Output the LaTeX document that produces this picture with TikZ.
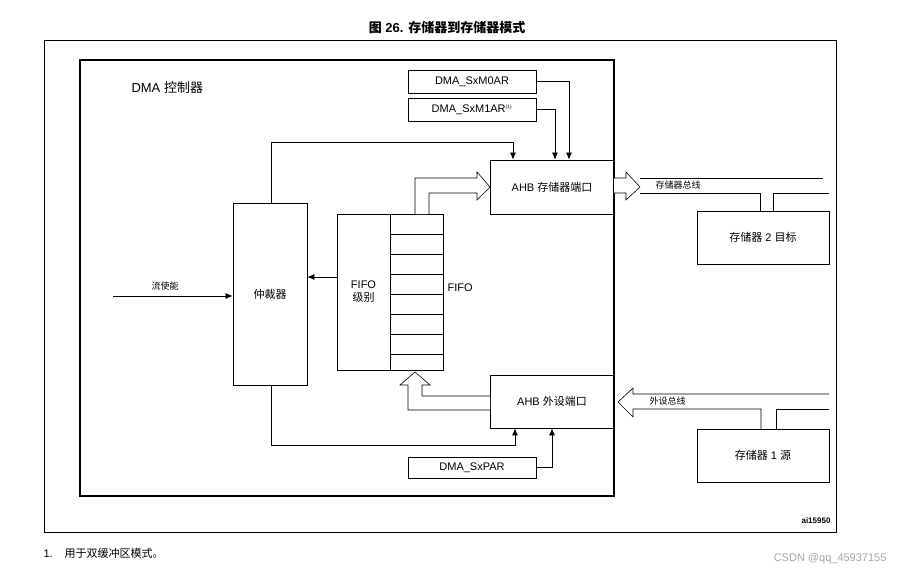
\documentclass[tikz,border=0pt]{standalone}
\usepackage{fontspec}
\setmainfont{Liberation Sans}
\newfontfamily\cjk{Noto Sans CJK SC}
\usetikzlibrary{arrows.meta}
\begin{document}
\begin{tikzpicture}[x=1pt,y=-1pt,
  box/.style={draw,line width=0.9pt,inner sep=0pt},
  ln/.style={line width=0.6pt},
  ar/.style={ln,-{Latex[length=7pt,width=6pt]}},
  txt/.style={font=\fontsize{11}{13}\selectfont},
  sm/.style={font=\fontsize{9}{11}\selectfont}]
\useasboundingbox (0,0) rectangle (903,578);
\node[font=\bfseries\fontsize{13}{15}\selectfont] (title) at (447,28) {{\cjk 图} 26. {\cjk\bfseries 存储器到存储器模式}};
\draw[line width=0.5pt] (44,40) rectangle (836,532);
\draw[line width=2pt] (80,60) rectangle (614,496);
\node[txt,font=\fontsize{13}{15}\selectfont,anchor=west] (dmac) at (128,88) {DMA {\cjk 控制器}};
% register boxes
\node[box,minimum width=128pt,minimum height=23pt,txt] (m0) at (472,81.5) {DMA\_SxM0AR};
\node[box,minimum width=128pt,minimum height=23pt,txt] (m1) at (472,109.5) {DMA\_SxM1AR\textsuperscript{\tiny(1)}};
\node[box,minimum width=128pt,minimum height=21pt,txt] (par) at (472,467.5) {DMA\_SxPAR};
% ports
\node[box,minimum width=124pt,minimum height=54pt,txt] (mp) at (552,187) {AHB {\cjk 存储器端口}};
\node[box,minimum width=124pt,minimum height=53pt,txt] (pp) at (552,401.5) {AHB {\cjk 外设端口}};
% arbiter
\node[box,minimum width=74pt,minimum height=182pt,txt] (arb) at (270,294) {{\cjk 仲裁器}};
% FIFO
\node[box,minimum width=53pt,minimum height=156pt,txt,align=center] (lvl) at (363.5,292) {FIFO\\{\cjk 级别}};
\node[box,minimum width=53pt,minimum height=156pt] (fifo) at (416.5,292) {};
\foreach \y in {234,254,274,294,314,334,354}{\draw[line width=0.9pt] (390,\y) -- (443,\y);}
\node[txt,anchor=west] (fifol) at (444,288) {FIFO};
% targets
\node[box,minimum width=132pt,minimum height=53pt,txt] (t2) at (763,237.5) {{\cjk 存储器} 2 {\cjk 目标}};
\node[box,minimum width=132pt,minimum height=53pt,txt] (s1) at (763,455.5) {{\cjk 存储器} 1 {\cjk 源}};
% control arrows
\draw[ar] (m0.east) -- (569,81.5) -- (mp.north -| 569,0);
\draw[ar] (m1.east) -- (555,109.5) -- (mp.north -| 555,0);
\draw[ar] (arb.north -| 271,0) -- (271,142) -- (513,142) -- (mp.north -| 513,0);
\draw[ar] (arb.south -| 271,0) -- (271,445) -- (515,445) -- (pp.south -| 515,0);
\draw[ar] (par.east) -- (552,467.5) -- (pp.south -| 552,0);
\draw[ar] (lvl.west |- 0,277) -- (arb.east |- 0,277);
\coordinate (se) at (113,296);
\draw[ar] (se) -- (arb.west |- se);
\node[sm,anchor=south] (sel) at (165,294) {\cjk 流使能};
% hollow arrow FIFO -> mem port
\draw[ln,fill=white] (415,214) -- (415,178) -- (477,178) -- (477,172) -- (490,187) -- (477,200) -- (477,193) -- (429,193) -- (429,214);
% hollow arrow periph port -> FIFO
\draw[ln,fill=white] (490,410) -- (408,410) -- (408,385) -- (400,385) -- (415,372) -- (430,385) -- (422,385) -- (422,396) -- (490,396);
% memory bus
\draw[ln,fill=white] (614,178) -- (626,178) -- (626,172) -- (640,187) -- (626,200) -- (626,193) -- (614,193);
\draw[ln] (640,178) -- (823,178);
\draw[ln] (640,193) -- (760,193) -- (760,211);
\draw[ln] (773,211) -- (773,193) -- (829,193);
\node[sm,anchor=west] (mbl) at (652,185) {\cjk 存储器总线};
% peripheral bus
\draw[ln,fill=white] (829,394) -- (633,394) -- (633,388) -- (618,402) -- (633,417) -- (633,409) -- (761,409) -- (761,429);
\draw[ln] (776,429) -- (776,409) -- (829,409);
\node[sm,anchor=west] (pbl) at (646,401) {\cjk 外设总线};
\node[font=\bfseries\fontsize{8}{10}\selectfont,anchor=east] (ai) at (834,521) {ai15950};
\node[txt,anchor=west] (fn) at (40,553) {1.\hspace{12pt}{\cjk 用于双缓冲区模式。}};
\node[txt,anchor=east,text=gray!70] (wm) at (890,559) {CSDN @qq\_45937155};
\end{tikzpicture}
\end{document}
